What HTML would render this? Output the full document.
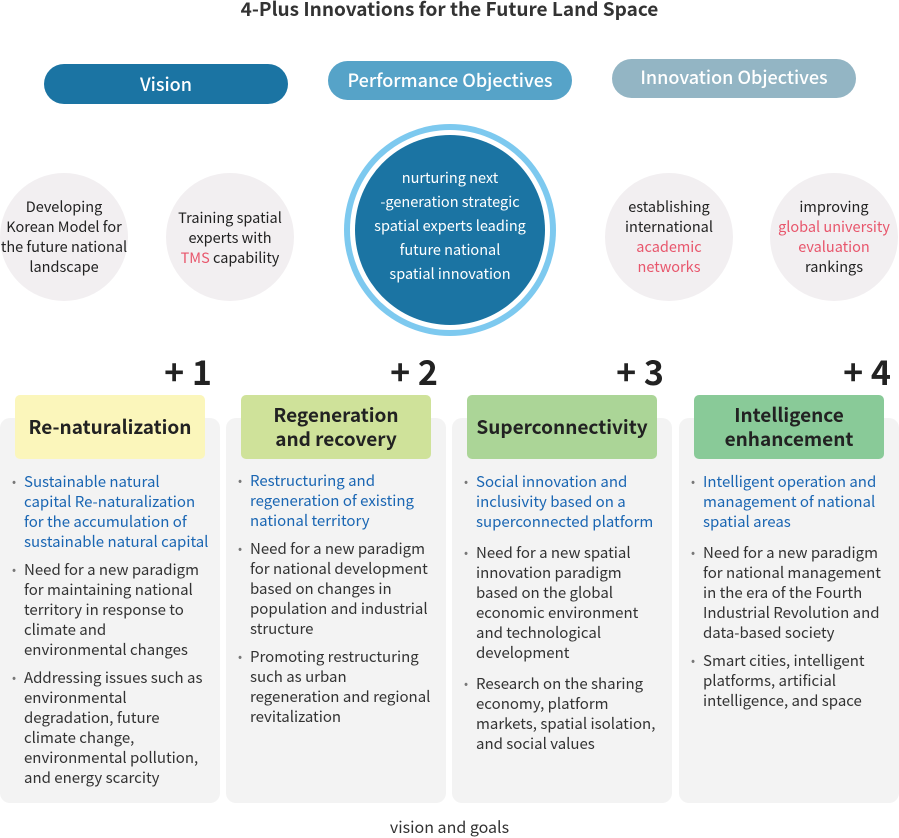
<!DOCTYPE html>
<html><head><meta charset="utf-8"><style>
*{margin:0;padding:0;box-sizing:border-box}
body{width:899px;height:838px;background:#fff;position:relative;overflow:hidden;font-family:"Noto Sans CJK KR","Liberation Sans",sans-serif;color:#333}
.a{position:absolute}
.title{left:0;width:899px;top:-5px;text-align:center;font-size:19px;font-weight:bold;color:#333}
.pill{border-radius:22px;color:#fff;font-size:18px;text-align:center;font-weight:500}
.sc{border-radius:50%;background:#f2eff1;display:flex;align-items:center;justify-content:center;text-align:center;font-size:14.5px;line-height:20px;color:#222;white-space:nowrap}
.r{color:#e8566c}
.plus{font-size:34px;font-weight:bold;color:#222;text-align:right;width:100px;line-height:34px}
.panel{background:#f3f3f3;border-radius:10px;top:418px;height:385px;width:220px}
.hd{top:395px;width:190px;height:64px;border-radius:5px;display:flex;align-items:center;justify-content:center;text-align:center;font-size:19px;font-weight:bold;color:#222;line-height:24px}
ul{list-style:none;font-size:15px;line-height:20px;color:#333;white-space:nowrap}
li{position:relative;padding-left:12px;margin-bottom:8px}
li:before{content:"•";position:absolute;left:0;color:#777;font-size:12px}
li.b{color:#1a66b3}
</style></head><body>
<div class="a title">4-Plus Innovations for the Future Land Space</div>
<div class="a pill" style="left:44px;top:64px;width:244px;height:40px;line-height:40px;background:#1b74a3">Vision</div>
<div class="a pill" style="left:328px;top:61px;width:244px;height:39px;line-height:39px;background:#56a3c8">Performance Objectives</div>
<div class="a pill" style="left:612px;top:59px;width:244px;height:39px;line-height:36px;background:#93b5c4">Innovation Objectives</div>

<div class="a sc" style="left:0;top:173px;width:128px;height:128px"><div>Developing<br>Korean Model for<br>the future national<br>landscape</div></div>
<div class="a sc" style="left:166px;top:173px;width:128px;height:128px;padding-top:2px"><div>Training spatial<br>experts with<br><span class="r">TMS</span>&nbsp;capability</div></div>
<div class="a sc" style="left:605px;top:173px;width:128px;height:128px"><div>establishing<br>international<br><span class="r">academic<br>networks</span></div></div>
<div class="a sc" style="left:770px;top:173px;width:128px;height:128px"><div>improving<br><span class="r">global university<br>evaluation</span><br>rankings</div></div>

<div class="a" style="left:344px;top:124px;width:212px;height:212px;border-radius:50%;background:#7dc9ef"></div>
<div class="a" style="left:350px;top:130px;width:200px;height:200px;border-radius:50%;background:#fff"></div>
<div class="a sc" style="left:355px;top:135px;width:190px;height:190px;background:#1b74a3;color:#fff;font-size:14.5px;line-height:24px;padding-bottom:8px"><div>nurturing next<br>-generation strategic<br>spatial experts leading<br>future national<br>spatial innovation</div></div>

<div class="a plus" style="left:112px;top:354px">+ 1</div>
<div class="a plus" style="left:338px;top:354px">+ 2</div>
<div class="a plus" style="left:564px;top:354px">+ 3</div>
<div class="a plus" style="left:791px;top:354px">+ 4</div>

<div class="a panel" style="left:0"></div>
<div class="a panel" style="left:226px"></div>
<div class="a panel" style="left:452px"></div>
<div class="a panel" style="left:679px"></div>

<div class="a hd" style="left:15px;background:#fbf6bb">Re-naturalization</div>
<div class="a hd" style="left:241px;background:#cfe29a">Regeneration<br>and recovery</div>
<div class="a hd" style="left:467px;background:#abd597">Superconnectivity</div>
<div class="a hd" style="left:694px;background:#89ca98">Intelligence<br>enhancement</div>

<ul class="a" style="left:12px;top:472px">
<li class="b">Sustainable natural<br>capital Re-naturalization<br>for the accumulation of<br>sustainable natural capital</li>
<li>Need for a new paradigm<br>for maintaining national<br>territory in response to<br>climate and<br>environmental changes</li>
<li>Addressing issues such as<br>environmental<br>degradation, future<br>climate change,<br>environmental pollution,<br>and energy scarcity</li>
</ul>
<ul class="a" style="left:238px;top:471px">
<li class="b">Restructuring and<br>regeneration of existing<br>national territory</li>
<li>Need for a new paradigm<br>for national development<br>based on changes in<br>population and industrial<br>structure</li>
<li>Promoting restructuring<br>such as urban<br>regeneration and regional<br>revitalization</li>
</ul>
<ul class="a" style="left:464px;top:472px">
<li class="b" style="margin-bottom:11px">Social innovation and<br>inclusivity based on a<br>superconnected platform</li>
<li style="margin-bottom:11px">Need for a new spatial<br>innovation paradigm<br>based on the global<br>economic environment<br>and technological<br>development</li>
<li>Research on the sharing<br>economy, platform<br>markets, spatial isolation,<br>and social values</li>
</ul>
<ul class="a" style="left:691px;top:472px">
<li class="b" style="margin-bottom:11px">Intelligent operation and<br>management of national<br>spatial areas</li>
<li>Need for a new paradigm<br>for national management<br>in the era of the Fourth<br>Industrial Revolution and<br>data-based society</li>
<li>Smart cities, intelligent<br>platforms, artificial<br>intelligence, and space</li>
</ul>

<div class="a" style="left:0;width:899px;top:814px;text-align:center;font-size:16px;color:#333">vision and goals</div>
</body></html>
